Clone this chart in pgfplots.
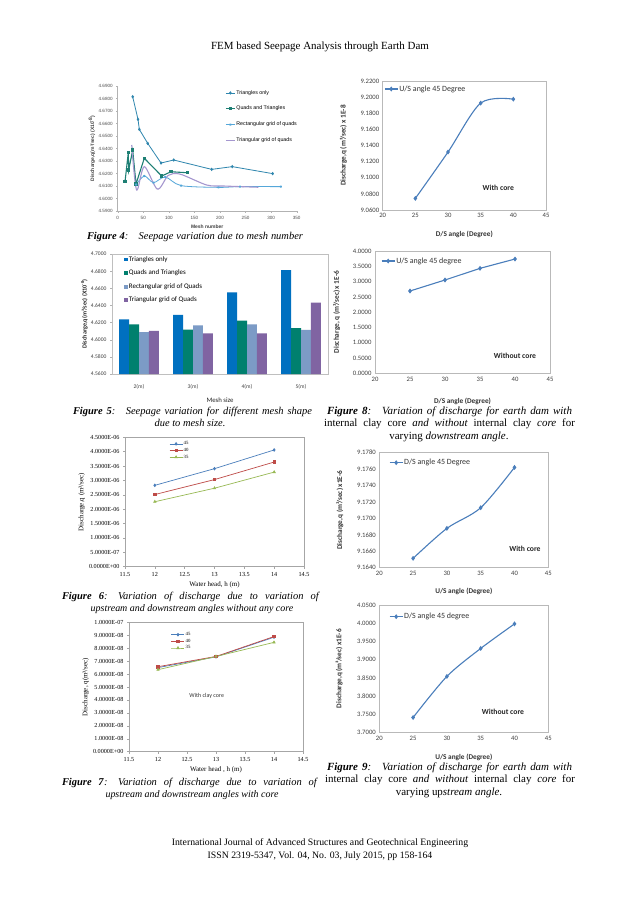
\documentclass[border=0pt]{standalone}
\usepackage{fontspec}
\setmainfont{Liberation Serif}
\newfontfamily\carlito{Carlito}
\newfontfamily\arial{Liberation Sans}
\usepackage{pgfplots}
\pgfplotsset{compat=1.18}

\newcommand\fs[1]{\fontsize{#1pt}{#1pt}\selectfont}
% justified caption line of a given width
\newcommand\jline[2]{\makebox[#1][s]{#2}}

\definecolor{xlblue}{HTML}{4A7EBB}
\definecolor{xlred}{HTML}{BE4B48}
\definecolor{xlgreen}{HTML}{98B954}
\definecolor{tri}{HTML}{2F86AE}
\definecolor{quad}{HTML}{1E7F74}
\definecolor{rect}{HTML}{55A7D9}
\definecolor{tgrid}{HTML}{A597CF}
\definecolor{bblue}{HTML}{0070C0}
\definecolor{bteal}{HTML}{00806E}
\definecolor{bgrey}{HTML}{7C9BC6}
\definecolor{bpurple}{HTML}{8064A2}

\pgfplotsset{
  linelegend/.style={legend image code/.code={%
    \draw[mark repeat=2,mark phase=2,##1] plot coordinates {(0bp,0bp) (#1,0bp) (2*#1,0bp)};}},
  xlchart/.style={scale only axis, anchor=south west,
    axis line style={draw=gray!55, line width=0.6bp},
    major tick length=0pt,
    tick label style={font=\carlito\fs{6.7}, black!75},
    label style={font=\carlito\bfseries\fs{7.3}, black!80},
    legend style={draw=none, fill=none, font=\carlito\fs{8}, text=black!80, inner sep=0pt,
      nodes={inner sep=1pt}},
    legend cell align=left, linelegend=6.5bp},
  timeschart/.style={scale only axis, anchor=south west,
    axis line style={draw=gray!70, line width=0.5bp},
    tick align=outside, major tick length=2bp, xtick pos=bottom, ytick pos=left,
    tick style={gray!70, line width=0.5bp},
    scaled y ticks=false,
    tick label style={font=\fs{6.2}},
    label style={font=\fs{7}},
    legend style={draw=none, fill=none, font=\fs{4.8}, inner sep=0pt, row sep=0.4bp,
      nodes={inner sep=0.8pt}},
    legend cell align=left, linelegend=6.5bp,
    xmin=11.5, xmax=14.5, xtick={11.5,12,12.5,13,13.5,14,14.5},
    xticklabels={11.5,12,12.5,13,13.5,14,14.5}},
}

\begin{document}
\begin{tikzpicture}
\path[use as bounding box, fill=white] (0,0) rectangle (638bp,-903bp);

% page text
\node[anchor=mid, font=\fs{11}] at (320bp,-47bp) {FEM based Seepage Analysis through Earth Dam};
\node[anchor=mid, font=\fs{10.5}] at (195bp,-237bp) {\jline{216bp}{\textbf{\textit{Figure 4}}\textit{:}\quad\textit{Seepage variation due to mesh number}}};
\node[anchor=mid, font=\fs{10.5}] at (192.5bp,-412bp) {\jline{239bp}{\textbf{\textit{Figure 5}}\textit{:}\quad\textit{Seepage variation for different mesh shape}}};
\node[anchor=mid, font=\fs{10.5}] at (190bp,-424bp) {\textit{due to mesh size.}};
\node[anchor=mid, font=\fs{11}] at (449.5bp,-412bp) {\jline{245bp}{\textbf{\textit{Figure 8}}\textit{:}\quad\textit{Variation of discharge for earth dam with}}};
\node[anchor=mid, font=\fs{11}] at (449.5bp,-424.5bp) {\jline{251bp}{internal clay core \textit{and without} internal clay \textit{core} for}};
\node[anchor=mid, font=\fs{11}] at (449bp,-437bp) {varying \textit{downstream angle}.};
\node[anchor=mid, font=\fs{10.5}] at (191bp,-597bp) {\jline{258bp}{\textbf{\textit{Figure 6}}\textit{:}\quad\textit{Variation of discharge due to variation of}}};
\node[anchor=mid, font=\fs{10}] at (192bp,-609bp) {\textit{upstream and downstream angles without any core}};
\node[anchor=mid, font=\fs{10.5}] at (190bp,-783bp) {\jline{256bp}{\textbf{\textit{Figure 7}}\textit{:}\quad\textit{Variation of discharge due to variation of}}};
\node[anchor=mid, font=\fs{10}] at (192bp,-795bp) {\textit{upstream and downstream angles with core}};
\node[anchor=mid, font=\fs{11}] at (449.5bp,-768bp) {\jline{245bp}{\textbf{\textit{Figure 9}}\textit{:}\quad\textit{Variation of discharge for earth dam with}}};
\node[anchor=mid, font=\fs{11}] at (450bp,-780.5bp) {\jline{250bp}{internal clay core \textit{and without} internal clay \textit{core} for}};
\node[anchor=mid, font=\fs{11}] at (449bp,-793bp) {varying up\textit{stream angle}.};
\node[anchor=mid, font=\fs{9.8}] at (320bp,-843bp) {International Journal of Advanced Structures and Geotechnical Engineering};
\node[anchor=mid, font=\fs{9.8}] at (320bp,-856bp) {ISSN 2319-5347, Vol. 04, No. 03, July 2015, pp 158-164};

% ---------- Figure 4 ----------
\begin{axis}[scale only axis, anchor=south west, at={(117.7bp,-211bp)},
  width=179bp, height=125bp,
  xmin=0, xmax=350, ymin=4.59, ymax=4.69,
  axis x line*=bottom, axis y line*=left,
  axis line style={draw=gray!60, line width=0.5bp, -},
  tick align=outside, major tick length=1.5bp, tick style={gray!60},
  xtick={0,50,100,150,200,250,300,350},
  xticklabels={0,50,100,150,200,250,300,350},
  ytick={4.59,4.60,4.61,4.62,4.63,4.64,4.65,4.66,4.67,4.68,4.69},
  yticklabels={4.5900,4.6000,4.6100,4.6200,4.6300,4.6400,4.6500,4.6600,4.6700,4.6800,4.6900},
  tick label style={font=\arial\fs{4.6}, black!70},
  xlabel={Mesh number}, ylabel={Discharge,q(m³/sec) (X10\textsuperscript{-8})},
  label style={font=\arial\bfseries\fs{5}, black!75},
  xlabel style={at={(rel axis cs:0.5,-0.126)}, anchor=center},
  ylabel style={at={(rel axis cs:-0.144,0.5)}, anchor=center},
  legend style={at={(rel axis cs:0.6,0.975)}, anchor=north west, draw=none, fill=none,
    font=\arial\fs{5.3}, row sep=8.5bp, inner sep=0pt, nodes={inner sep=1pt}},
  legend cell align=left, linelegend=4.5bp]
\addplot[color=tri, line width=0.8bp, mark=diamond*, mark size=1.1bp] coordinates {
  (29.3,4.6814) (39.7,4.6633) (42.3,4.6553) (58.7,4.6441) (84.7,4.6284)
  (109.5,4.6308) (183.8,4.6233) (224,4.6255) (303,4.6199)};
\addlegendentry{Triangles only}
\addplot[color=quad, line width=1.1bp, mark=square*, mark size=1bp] coordinates {
  (14.3,4.6134) (20.7,4.6366) (21.5,4.6228) (29.3,4.6388) (35.8,4.6116)
  (52,4.6322) (86,4.6180) (104.2,4.6214) (136.9,4.6206)};
\addlegendentry{Quads and Triangles}
\addplot[color=rect, line width=0.8bp, smooth, mark=asterisk, mark size=1.1bp] coordinates {
  (36,4.6112) (52,4.6180) (70,4.6127) (93,4.6172) (124,4.6103)
  (197,4.6089) (239,4.6095) (319,4.6095)};
\addlegendentry{Rectangular grid of quads}
\addplot[color=tgrid, line width=1.1bp, smooth, mark=none] coordinates {
  (27.4,4.6428) (37,4.6068) (52,4.6255) (77.6,4.6075) (99,4.6185)
  (122,4.6195) (174,4.6108) (206.6,4.6100) (275,4.6090)};
\addlegendentry{Triangular grid of quads}
\end{axis}

% ---------- Figure 5 ----------
\begin{axis}[scale only axis, anchor=south west, at={(112bp,-374bp)},
  width=216bp, height=120bp,
  ybar=0pt, bar width=9.9bp,
  xmin=-0.5, xmax=3.5, ymin=4.56, ymax=4.70,
  axis line style={draw=gray!50, line width=0.5bp},
  tick align=outside, major tick length=2bp, ytick pos=left, xtick pos=bottom,
  tick style={gray!60}, xtick style={draw=none},
  xtick={0,1,2,3}, xticklabels={2(m),3(m),4(m),5(m)},
  ytick={4.56,4.58,4.60,4.62,4.64,4.66,4.68,4.70},
  yticklabels={4.5600,4.5800,4.6000,4.6200,4.6400,4.6600,4.6800,4.7000},
  tick label style={font=\carlito\fs{5.6}, black!75},
  xticklabel style={yshift=-5bp},
  xlabel={Mesh size}, ylabel={Discharge,q(m³/sec) (X10\textsuperscript{-8})},
  label style={font=\carlito\fs{6.8}, black!85},
  ylabel style={font=\carlito\bfseries\fs{6.2}, at={(rel axis cs:-0.128,0.5)}, anchor=center},
  xlabel style={at={(rel axis cs:0.5,-0.217)}, anchor=center},
  legend style={at={(rel axis cs:0.055,0.99)}, anchor=north west, draw=none, fill=none,
    font=\carlito\fs{7}, row sep=5.2bp, inner sep=0pt, nodes={inner sep=1pt}},
  legend cell align=left,
  legend image code/.code={\fill[#1,draw=none] (0bp,-1.9bp) rectangle (3.8bp,1.9bp);}]
\addplot[fill=bblue, draw=none] coordinates {(0,4.6236) (1,4.6290) (2,4.6553) (3,4.6813)};
\addlegendentry{Triangles only}
\addplot[fill=bteal, draw=none] coordinates {(0,4.6178) (1,4.6119) (2,4.6224) (3,4.6135)};
\addlegendentry{Quads and Triangles}
\addplot[fill=bgrey, draw=none] coordinates {(0,4.6088) (1,4.6166) (2,4.6178) (3,4.6116)};
\addlegendentry{Rectangular grid of Quads}
\addplot[fill=bpurple, draw=none] coordinates {(0,4.6104) (1,4.6073) (2,4.6073) (3,4.6433)};
\addlegendentry{Triangular grid of Quads}
\end{axis}

% ---------- Figure 6 ----------
\begin{axis}[timeschart, at={(125bp,-566.7bp)}, width=179bp, height=129.4bp,
  ymin=0, ymax=4.5e-6,
  ytick={0,0.5e-6,1e-6,1.5e-6,2e-6,2.5e-6,3e-6,3.5e-6,4e-6,4.5e-6},
  yticklabels={0.0000E+00,5.0000E-07,1.0000E-06,1.5000E-06,2.0000E-06,2.5000E-06,3.0000E-06,3.5000E-06,4.0000E-06,4.5000E-06},
  xlabel={Water head, h (m)}, ylabel={Discharge,q (m³/sec)},
  xlabel style={at={(rel axis cs:0.5,-0.141)}, anchor=center},
  ylabel style={at={(rel axis cs:-0.242,0.5)}, anchor=center},
  legend style={at={(rel axis cs:0.246,0.975)}, anchor=north west}]
\addplot[color=xlblue, line width=0.7bp, mark=diamond*, mark size=1.3bp] coordinates {(12,2.83e-6) (13,3.41e-6) (14,4.06e-6)};
\addlegendentry{45}
\addplot[color=xlred, line width=0.7bp, mark=square*, mark size=1.2bp] coordinates {(12,2.51e-6) (13,3.03e-6) (14,3.64e-6)};
\addlegendentry{40}
\addplot[color=xlgreen, line width=0.7bp, mark=triangle*, mark size=1.3bp] coordinates {(12,2.26e-6) (13,2.73e-6) (14,3.29e-6)};
\addlegendentry{35}
\end{axis}

% ---------- Figure 7 ----------
\begin{axis}[timeschart, at={(129bp,-751.7bp)}, width=174bp, height=129.4bp,
  ymin=0, ymax=1e-7,
  ytick={0,1e-8,2e-8,3e-8,4e-8,5e-8,6e-8,7e-8,8e-8,9e-8,1e-7},
  yticklabels={0.0000E+00,1.0000E-08,2.0000E-08,3.0000E-08,4.0000E-08,5.0000E-08,6.0000E-08,7.0000E-08,8.0000E-08,9.0000E-08,1.0000E-07},
  xlabel={Water head , h (m)}, ylabel={Discharge, q(m³/sec)},
  xlabel style={at={(rel axis cs:0.5,-0.141)}, anchor=center},
  ylabel style={at={(rel axis cs:-0.249,0.5)}, anchor=center},
  legend style={at={(rel axis cs:0.241,0.93)}, anchor=north west}]
\addplot[color=xlblue, line width=0.7bp, mark=diamond*, mark size=1.3bp] coordinates {(12,6.50e-8) (13,7.33e-8) (14,8.85e-8)};
\addlegendentry{45}
\addplot[color=xlred, line width=0.7bp, mark=square*, mark size=1.2bp] coordinates {(12,6.57e-8) (13,7.36e-8) (14,8.90e-8)};
\addlegendentry{40}
\addplot[color=xlgreen, line width=0.7bp, mark=triangle*, mark size=1.3bp] coordinates {(12,6.34e-8) (13,7.36e-8) (14,8.45e-8)};
\addlegendentry{35}
\node[font=\carlito\fs{6}, black!80] at (axis cs:12.84,4.33e-8) {With clay core};
\end{axis}

% ---------- Figure 8 (top) ----------
\begin{axis}[xlchart, at={(382.7bp,-210bp)}, width=163.3bp, height=129bp,
  xmin=20, xmax=45, xtick={20,25,30,35,40,45}, xticklabels={20,25,30,35,40,45},
  ymin=9.06, ymax=9.22,
  ytick={9.06,9.08,9.10,9.12,9.14,9.16,9.18,9.20,9.22},
  yticklabels={9.0600,9.0800,9.1000,9.1200,9.1400,9.1600,9.1800,9.2000,9.2200},
  xlabel={D/S angle (Degree)}, ylabel={Discharge,q (m³/sec) x 1E-8},
  xlabel style={at={(rel axis cs:0.5,-0.186)}, anchor=center},
  ylabel style={at={(rel axis cs:-0.241,0.5)}, anchor=center},
  legend style={at={(rel axis cs:0.008,0.938)}, anchor=west}]
\addplot[color=xlblue, line width=1.1bp, smooth, mark=diamond*, mark size=1.6bp] coordinates {(25,9.0744) (30,9.1319) (35,9.1926) (40,9.1975)};
\addlegendentry{U/S angle 45 Degree}
\node[font=\carlito\bfseries\fs{7.7}, black!85] at (axis cs:37.7,9.0877) {With core};
\end{axis}

% ---------- Figure 8 (bottom) ----------
\begin{axis}[xlchart, at={(375bp,-373.3bp)}, width=175bp, height=122.3bp,
  xmin=20, xmax=45, xtick={20,25,30,35,40,45}, xticklabels={20,25,30,35,40,45},
  ymin=0, ymax=4,
  ytick={0,0.5,1,1.5,2,2.5,3,3.5,4},
  yticklabels={0.0000,0.5000,1.0000,1.5000,2.0000,2.5000,3.0000,3.5000,4.0000},
  xlabel={D/S angle (Degree)}, ylabel={Discharge, q (m³/sec) x 1E-6},
  xlabel style={at={(rel axis cs:0.5,-0.232)}, anchor=center},
  ylabel style={at={(rel axis cs:-0.219,0.5)}, anchor=center},
  legend style={at={(rel axis cs:0.034,0.918)}, anchor=west}]
\addplot[color=xlblue, line width=1.1bp, mark=diamond*, mark size=1.6bp] coordinates {(25,2.692) (30,3.052) (35,3.433) (40,3.738)};
\addlegendentry{U/S angle 45 degree}
\node[font=\carlito\bfseries\fs{7.7}, black!85] at (axis cs:40,0.576) {Without core};
\end{axis}

% ---------- Figure 9 (top) ----------
\begin{axis}[xlchart, at={(379.3bp,-567.7bp)}, width=169bp, height=115bp,
  xmin=20, xmax=45, xtick={20,25,30,35,40,45}, xticklabels={20,25,30,35,40,45},
  ymin=9.164, ymax=9.178,
  ytick={9.164,9.166,9.168,9.170,9.172,9.174,9.176,9.178},
  yticklabels={9.1640,9.1660,9.1680,9.1700,9.1720,9.1740,9.1760,9.1780},
  xlabel={U/S angle (Degree)}, ylabel={Discharge,q (m³/sec) x1E-6},
  xlabel style={at={(rel axis cs:0.5,-0.209)}, anchor=center},
  ylabel style={at={(rel axis cs:-0.233,0.5)}, anchor=center},
  legend style={at={(rel axis cs:0.057,0.913)}, anchor=west}]
\addplot[color=xlblue, line width=1.1bp, smooth, mark=diamond*, mark size=1.6bp] coordinates {(25,9.16514) (30,9.16879) (35,9.17130) (40,9.17621)};
\addlegendentry{D/S angle 45 Degree}
\node[font=\carlito\bfseries\fs{7.7}, black!85] at (axis cs:41.55,9.16628) {With core};
\end{axis}

% ---------- Figure 9 (bottom) ----------
\begin{axis}[xlchart, at={(379.3bp,-732.3bp)}, width=169bp, height=127.3bp,
  xmin=20, xmax=45, xtick={20,25,30,35,40,45}, xticklabels={20,25,30,35,40,45},
  ymin=3.70, ymax=4.05,
  ytick={3.70,3.75,3.80,3.85,3.90,3.95,4.00,4.05},
  yticklabels={3.7000,3.7500,3.8000,3.8500,3.9000,3.9500,4.0000,4.0500},
  xlabel={U/S angle (Degree)}, ylabel={Discharge,q (m³/sec) x1E-6},
  xlabel style={at={(rel axis cs:0.5,-0.2)}, anchor=center},
  ylabel style={at={(rel axis cs:-0.238,0.5)}, anchor=center},
  legend style={at={(rel axis cs:0.057,0.908)}, anchor=west}]
\addplot[color=xlblue, line width=1.1bp, smooth, mark=diamond*, mark size=1.6bp] coordinates {(25,3.7407) (30,3.8537) (35,3.9306) (40,3.9981)};
\addlegendentry{D/S angle 45 degree}
\node[font=\carlito\bfseries\fs{7.7}, black!85] at (axis cs:38.3,3.755) {Without core};
\end{axis}
\end{tikzpicture}
\end{document}
